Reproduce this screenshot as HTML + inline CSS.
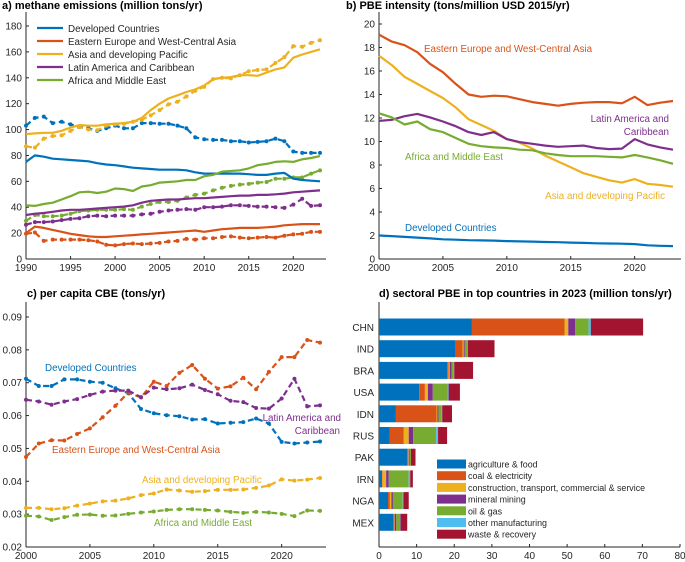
<!DOCTYPE html>
<html><head><meta charset="utf-8">
<style>
html,body{margin:0;padding:0;background:#fff;}
svg{display:block;font-family:"Liberation Sans",Arial,sans-serif;}
.tk{font-size:10px;fill:#262626;}
.lg{font-size:8.9px;fill:#262626;}
.ttl{font-size:11px;font-weight:bold;fill:#000;}
.lab{font-size:9.8px;}
</style></head>
<body>
<svg id="chart" width="685" height="562" viewBox="0 0 685 562"></svg>
<script>
const C={blue:'#0072BD',orange:'#D95319',yellow:'#EDB120',purple:'#7E2F8E',green:'#77AC30',cyan:'#4DBEEE',red:'#A2142F'};
// Panel a data (1990-2023)
const yearsA=[];for(let y=1990;y<=2023;y++)yearsA.push(y);
const aDevSolid=[75,80,79,77.5,77,76.5,76,75.5,74,73,72.5,71.5,70.5,70,69.5,69,69,69,68.5,67,66,66,66,66,66,65.5,65,65,66,66.5,62,61,60.5,60];
const aDevDash=[103,109,110,105,106,104,102,101,99,101,103,101,101,105,105,104.5,104.5,103,101,94,92.5,92,92,91,91,90,90.5,91,93,91,83,82,82,82];
const aEeSolid=[20,25,24,22.5,21,19.5,18.5,17.5,17,17,17.5,18,18.5,19,19.5,20,20.5,21,21.5,22,21,22,23,23.5,24,24,24,24.5,25,26,26.5,27,27,27];
const aEeDash=[19.5,20.5,14,15,15,15,15,14.5,13.5,11,10.5,11.5,12,11.5,12,12.5,13.5,14,15.5,15,16,16,17,17.5,16.5,16,16.5,17,16.5,18,19,19.5,21,21];
const aAsSolid=[96.5,97,97.5,97.5,99,101.5,103.5,103,103,104,104.5,105,106,109,115,120,124,126.5,129,131,134,139,140,140.5,142,142,141.5,144,146.5,148,155.5,158,160,162];
const aAsDash=[87,86,93,95,95.5,99,102,100,99.5,103,104,104.5,106,107.5,111,115,119.5,121.5,125.5,130,133,139,140,139.5,142,145,146,146.5,151.5,156,164.5,164,167,169];
const aLaSolid=[34,35,35.5,36.5,37.5,38,38,38.5,39,39.5,40,40.5,41.5,43.5,45,45.5,46,46,46.5,47,47,47.5,48,48.5,49,49,49.5,49.5,50,50.5,51.5,52,52.5,53];
const aLaDash=[26.5,28.5,28.5,29,30,31,31.5,33,33.5,33,33.5,33.5,33.5,34.5,35,36.5,37.5,38,38.5,38,40,40,40.5,41.5,41.5,41,40.5,40.5,40,39.5,42,46.5,41,41.5];
const aAfSolid=[41.5,41,42.5,43.5,46,48.5,51.5,52,51,52,54.5,54,52.5,56,57,59,59.5,60,61,61,64,65,67.5,68,68.5,70,72.5,73.5,75,75.5,75,77,78,79.5];
const aAfDash=[29.5,34,33,33,33.5,35,37,37.5,38,38,38,38.5,38,40.5,42.5,44,44,45,47.5,49.5,50.5,53,55,56.5,57.5,58,59,59.5,62,62,63,63,66,68.5];
const aYTicks=[0,20,40,60,80,100,120,140,160,180];
const aXTicks=[1990,1995,2000,2005,2010,2015,2020];
// Panel b data (2000-2023)
const yearsB=[];for(let y=2000;y<=2023;y++)yearsB.push(y);
const bEe=[19.1,18.5,18.2,17.6,16.6,15.9,14.9,14.0,13.8,13.9,13.85,13.6,13.35,13.2,13.05,13.2,13.3,13.35,13.35,13.25,13.8,13.1,13.3,13.45];
const bAs=[17.3,16.5,15.5,14.9,14.3,13.7,12.9,11.9,11.4,10.9,10.2,9.9,9.4,8.8,8.3,7.8,7.3,7.0,6.7,6.5,6.8,6.4,6.3,6.15];
const bLa=[11.75,11.85,12.15,12.35,12.05,11.7,11.3,10.8,10.55,10.8,10.2,9.95,9.8,9.65,9.55,9.6,9.65,9.45,9.35,9.4,10.2,9.75,9.5,9.3];
const bAf=[12.4,12.05,11.45,11.7,11.05,10.8,10.3,9.8,9.6,9.5,9.45,9.3,9.25,9.0,8.85,8.75,8.75,8.75,8.7,8.65,8.85,8.65,8.4,8.1];
const bDev=[2.0,1.95,1.88,1.82,1.75,1.68,1.64,1.6,1.58,1.57,1.52,1.5,1.48,1.45,1.43,1.4,1.37,1.34,1.32,1.3,1.27,1.17,1.12,1.1];
const bYTicks=[0,2,4,6,8,10,12,14,16,18,20];
const bXTicks=[2000,2005,2010,2015,2020];
// Panel c data
const cDev=[.0712,.0690,.0690,.0710,.0710,.0703,.0700,.0683,.0668,.0620,.0607,.0601,.0598,.0588,.0589,.0576,.0578,.0580,.0591,.0576,.0520,.0515,.0518,.0521];
const cEe=[.0474,.0515,.0525,.0524,.0544,.0561,.0595,.0630,.0670,.0655,.0703,.0690,.0730,.0754,.0712,.0682,.0689,.0715,.0680,.0733,.0778,.0778,.0830,.0822];
const cLa=[.0648,.0643,.0633,.0643,.0650,.0663,.0673,.0676,.0676,.0656,.0685,.0680,.0683,.0694,.0678,.0665,.0645,.0641,.0623,.0621,.0652,.0712,.0628,.0631];
const cAs=[.0319,.0319,.0315,.0318,.0326,.0332,.0339,.0341,.0348,.0358,.0363,.0375,.0372,.0368,.0370,.0374,.0374,.0375,.0380,.0387,.0406,.0402,.0405,.0410];
const cAf=[.0295,.0293,.0282,.0291,.0298,.0299,.0295,.0296,.0301,.0305,.0308,.0313,.0315,.0315,.0313,.0311,.0307,.0304,.0307,.0305,.0301,.0294,.0311,.0310];
const cYTicks=[0.02,0.03,0.04,0.05,0.06,0.07,0.08,0.09];
// Panel d data
const dCountries=['CHN','IND','BRA','USA','IDN','RUS','PAK','IRN','NGA','MEX'];
const dSectors=['agriculture & food','coal & electricity','construction, transport, commercial & service','mineral mining','oil & gas','other manufacturing','waste & recovery'];
const dAgri=[24.7,20.4,18.1,10.7,4.5,2.8,7.5,0.8,2.4,3.8];
const dCoal=[24.6,1.8,0.4,1.5,10.8,3.8,0.3,0.1,0.5,0.3];
const dConst=[1.0,0.3,0.3,0.8,0.2,1.3,0.1,1.0,0.4,0.1];
const dMin=[1.8,0.3,0.5,1.3,0.3,1.2,0.2,0.7,0.4,0.4];
const dOil=[3.6,0.7,0.6,3.9,0.9,6.1,0.4,5.3,2.6,1.0];
const dMan=[0.6,0.1,0.1,0.3,0.1,0.5,0.0,0.4,0.2,0.1];
const dWaste=[13.9,7.1,5.0,3.0,2.6,2.4,1.2,0.7,1.4,1.8];
const dXTicks=[0,10,20,30,40,50,60,70,80];

const svg=document.getElementById('chart');
const NS='http://www.w3.org/2000/svg';
function mk(tag,attrs,parent){const e=document.createElementNS(NS,tag);for(const k in attrs)e.setAttribute(k,attrs[k]);(parent||svg).appendChild(e);return e;}
function txt(s,x,y,cls,anchor,fill,parent){const t=mk('text',{x:x,y:y,class:cls,'text-anchor':anchor||'start'},parent);if(fill)t.setAttribute('fill',fill);t.textContent=s;return t;}
function lin(d0,d1,r0,r1){return v=>r0+(v-d0)/(d1-d0)*(r1-r0);}

function axes(g,x0,x1,y0,y1,xs,ys,xt,yt,xfmt,yfmt){
  mk('line',{x1:x0,y1:y0,x2:x0,y2:y1,stroke:'#262626','stroke-width':1},g);
  mk('line',{x1:x0,y1:y1,x2:x1,y2:y1,stroke:'#262626','stroke-width':1},g);
  yt.forEach(v=>{const y=ys(v);mk('line',{x1:x0,y1:y,x2:x0+3,y2:y,stroke:'#262626'},g);
    const t=txt(yfmt(v),x0-4,y+3.5,'tk','end',null,g);});
  xt.forEach(v=>{const x=xs(v);mk('line',{x1:x,y1:y1,x2:x,y2:y1-3,stroke:'#262626'},g);
    const t=txt(xfmt(v),x,y1+12,'tk','middle',null,g);});
}
function series(g,xsArr,vals,xs,ys,color,dashed,name){
  const pts=vals.map((v,i)=>xs(xsArr[i]).toFixed(1)+','+ys(v).toFixed(1)).join(' ');
  const p=mk('polyline',{points:pts,fill:'none',stroke:color,'stroke-width':2.2,'stroke-linejoin':'round'},g);
  if(dashed)p.setAttribute('stroke-dasharray','6,3.5');
  
  
  if(dashed){vals.forEach((v,i)=>{const c=mk('circle',{cx:xs(xsArr[i]),cy:ys(v),r:2,fill:color},g);
    
    });}
}

// ---- Panel a
const ga=mk('g',{});
const axA=lin(1990,2023,26,320), ayA=lin(0,180,259,26);
axes(ga,26,326,12,259,axA,ayA,aXTicks,aYTicks,v=>v,v=>v);
txt('a) methane emissions (million tons/yr)',2,9,'ttl','start',null,ga);
[[aDevDash,C.blue],[aEeDash,C.orange],[aAsDash,C.yellow],[aLaDash,C.purple],[aAfDash,C.green]].forEach(s=>series(ga,yearsA,s[0],axA,ayA,s[1],true,'dashed-series'));
[[aDevSolid,C.blue],[aEeSolid,C.orange],[aAsSolid,C.yellow],[aLaSolid,C.purple],[aAfSolid,C.green]].forEach(s=>series(ga,yearsA,s[0],axA,ayA,s[1],false,'solid-series'));
const legA=['Developed Countries','Eastern Europe and West-Central Asia','Asia and developing Pacific','Latin America and Caribbean','Africa and Middle East'];
const legAC=[C.blue,C.orange,C.yellow,C.purple,C.green];
legA.forEach((s,i)=>{const y=28+i*13;mk('line',{x1:37,y1:y,x2:63,y2:y,stroke:legAC[i],'stroke-width':2.2},ga);
  const t=txt(s,68,y+4,'lab','start','#262626',ga);});

// ---- Panel b
const gb=mk('g',{});
const axB=lin(2000,2023,379,673), ayB=lin(0,20,259,24);
axes(gb,379,681,12,259,axB,ayB,bXTicks,bYTicks,v=>v,v=>v);
txt('b) PBE intensity (tons/million USD 2015/yr)',346,9,'ttl','start',null,gb);
[[bEe,C.orange],[bAs,C.yellow],[bLa,C.purple],[bAf,C.green],[bDev,C.blue]].forEach(s=>series(gb,yearsB,s[0],axB,ayB,s[1],false,'intensity-line'));
txt('Eastern Europe and West-Central Asia',424,52,'lab','start',C.orange,gb);
txt('Latin America and',669,122,'lab','end',C.purple,gb);
txt('Caribbean',669,135,'lab','end',C.purple,gb);
txt('Africa and Middle East',405,160,'lab','start',C.green,gb);
txt('Asia and developing Pacific',665,199,'lab','end',C.yellow,gb);
txt('Developed Countries',405,231,'lab','start',C.blue,gb);

// ---- Panel c
const gc=mk('g',{});
const axC=lin(2000,2023,26,320), ayC=lin(0.02,0.09,547,317);
axes(gc,26,326,302,547,axC,ayC,bXTicks,cYTicks,v=>v,v=>v.toFixed(2));
txt('c) per capita CBE (tons/yr)',27,297,'ttl','start',null,gc);
[[cDev,C.blue],[cEe,C.orange],[cLa,C.purple],[cAs,C.yellow],[cAf,C.green]].forEach(s=>series(gc,yearsB,s[0],axC,ayC,s[1],true,'cbe-line'));
txt('Developed Countries',45,371,'lab','start',C.blue,gc);
txt('Eastern Europe and West-Central Asia',52,453,'lab','start',C.orange,gc);
txt('Latin America and',341,421,'lab','end',C.purple,gc);
txt('Caribbean',340,434,'lab','end',C.purple,gc);
txt('Asia and developing Pacific',142,483,'lab','start',C.yellow,gc);
txt('Africa and Middle East',154,526,'lab','start',C.green,gc);

// ---- Panel d
const gd=mk('g',{});
const axD=lin(0,80,379,680);
mk('line',{x1:379,y1:302,x2:379,y2:547,stroke:'#262626'},gd);
mk('line',{x1:379,y1:547,x2:680,y2:547,stroke:'#262626'},gd);
dXTicks.forEach(v=>{const x=axD(v);mk('line',{x1:x,y1:547,x2:x,y2:544,stroke:'#262626'},gd);
  const t=txt(v,x,559,'tk','middle',null,gd);});
txt('d) sectoral PBE in top countries in 2023 (million tons/yr)',379,297,'ttl','start',null,gd);
const segs=[dAgri,dCoal,dConst,dMin,dOil,dMan,dWaste];
const segC=[C.blue,C.orange,C.yellow,C.purple,C.green,C.cyan,C.red];
const bandY=i=>327+i*21.7;
dCountries.forEach((c,i)=>{const yc=bandY(i);
  const t=txt(c,374,yc+4,'tk','end',null,gd);
  let acc=0;segs.forEach((arr,k)=>{const v=arr[i];const r=mk('rect',{x:axD(acc),y:yc-8.5,width:Math.max(0,axD(acc+v)-axD(acc)),height:17,fill:segC[k]},gd);
    
    
    acc+=v;});
});
dSectors.forEach((s,k)=>{const y=464+k*11.7;
  mk('rect',{x:437,y:y-4.5,width:29,height:9,fill:segC[k]},gd);
  const t=txt(s,468,y+3.5,'lg','start','#262626',gd);});
</script>
</body></html>
